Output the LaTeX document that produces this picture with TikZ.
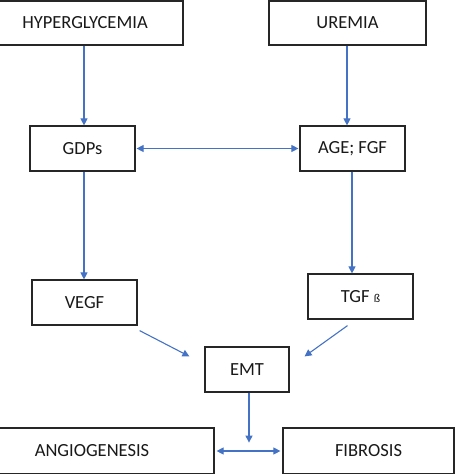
\documentclass[tikz,border=0pt]{standalone}
\usepackage{fontspec}
\setmainfont{Carlito}
\usepackage{xcolor}
\usepackage{tikz}
\usetikzlibrary{arrows.meta,calc}
\definecolor{arrblue}{RGB}{68,114,196}

\begin{document}
\begin{tikzpicture}[x=1pt,y=-1pt,
        box/.style={draw=black!85, line width=1.2pt, fill=white, inner sep=0pt,
            minimum height=45pt, text=black!90, font=\fontsize{18.5}{21}\selectfont},
        arr/.style={draw=arrblue, line width=1.1pt, -{Triangle[width=7pt,length=7pt]}},
        darr/.style={arr, {Triangle[width=7pt,length=7pt]}-{Triangle[width=7pt,length=7pt]}}]
        \useasboundingbox (0,0) rectangle (474,474);
        % boxes
        \node[box, minimum width=196pt, minimum height=44pt] (hyper) at (85,23) {HYPERGLYCEMIA};
        \node[box, minimum width=157pt, minimum height=44pt] (uremia) at (347.5,23) {UREMIA};
        \node[box, minimum width=105pt] (gdps) at (82.5,148.5) {GDPs};
        \node[box, minimum width=105pt] (age) at (352.5,148.5) {AGE; FGF};
        \node[box, minimum width=105pt] (vegf) at (84.5,302.5) {VEGF};
        \node[box, minimum width=105pt] (tgf) at (360.5,296.5) {TGF {\fontsize{12}{13}\selectfont ß}};
        \node[box, minimum width=84pt] (emt) at (247,369.5) {EMT};
        \node[box, minimum width=244pt, minimum height=46pt] (angio) at (92,451) {ANGIOGENESIS};
        \node[box, minimum width=171pt, minimum height=46pt] (fibro) at (368.5,451) {FIBROSIS};
        \coordinate (split) at ($(emt.south)+(2,50)$);
        % arrows
        \draw[arr] (hyper.south -| 84,0) -- (gdps.north -| 84,0);
        \draw[arr] (uremia.south -| 347,0) -- (age.north -| 347,0);
        \draw[darr] ($(gdps.east)+(1,0)$) -- ($(age.west)+(-1,0)$);
        \draw[arr] (gdps.south -| 84,0) -- (vegf.north -| 84,0);
        \draw[arr] (age.south -| 352,0) -- (tgf.north -| 352,0);
        \draw[arr] ($(vegf.south east)+(2,5)$) -- ($(emt.north west)+(-15,10)$);
        \draw[arr] ($(tgf.south)+(-13,6)$) -- ($(emt.north east)+(15,10)$);
        \draw[arr] (emt.south -| split) -- (split);
        \draw[darr] ($(angio.east)+(2,0)$) -- ($(fibro.west)+(-2,0)$);
    \end{tikzpicture}
\end{document}
